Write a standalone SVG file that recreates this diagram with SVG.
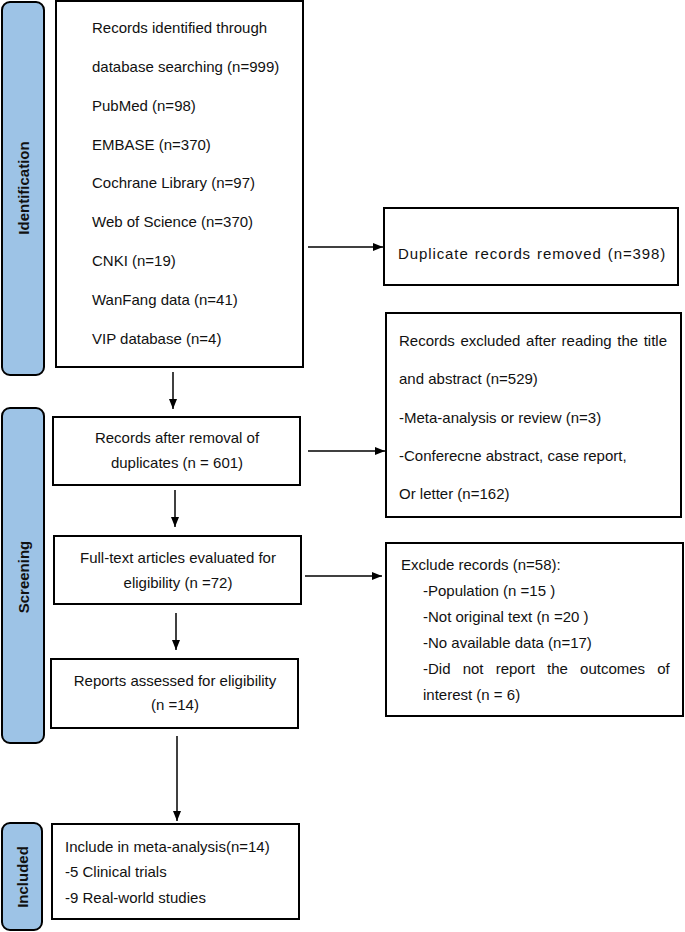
<svg xmlns="http://www.w3.org/2000/svg" width="685" height="932" viewBox="0 0 685 932">
<style>
.bg{fill:#fff}
.side{fill:#9dc3e6;stroke:#000;stroke-width:2}
.box{fill:#fff;stroke:#000;stroke-width:2}
text{font-family:"Liberation Sans",Arial,sans-serif;font-size:15px;fill:#111}
.lab{font-weight:bold;text-anchor:middle;dominant-baseline:central}
.c{text-anchor:middle}
.con{stroke:#000;stroke-width:1.5;fill:none;marker-end:url(#ah)}
</style>
<defs>
<marker id="ah" viewBox="0 0 10 8" refX="10" refY="4" markerWidth="10" markerHeight="8" markerUnits="userSpaceOnUse" orient="auto">
<path d="M0,0 L10,4 L0,8 Z" fill="#000"/>
</marker>
</defs>
<rect class="bg" width="685" height="932"/>
<g id="side-identification"><rect class="side" x="2" y="2" width="42" height="373" rx="8"/><text class="lab" transform="translate(23,188) rotate(-90)">Identification</text></g>
<g id="side-screening"><rect class="side" x="2" y="408" width="42" height="335" rx="8"/><text class="lab" transform="translate(23,577) rotate(-90)">Screening</text></g>
<g id="side-included"><rect class="side" x="2" y="823" width="40" height="107" rx="8"/><text class="lab" transform="translate(22,877) rotate(-90)">Included</text></g>
<g id="identified"><rect class="box" x="56" y="1" width="247" height="366"/>
<text x="92" y="33">Records identified through</text>
<text x="92" y="72">database searching (n=999)</text>
<text x="92" y="111">PubMed (n=98)</text>
<text x="92" y="150">EMBASE (n=370)</text>
<text x="92" y="188">Cochrane Library (n=97)</text>
<text x="92" y="227">Web of Science (n=370)</text>
<text x="92" y="266">CNKI (n=19)</text>
<text x="92" y="305">WanFang data (n=41)</text>
<text x="92" y="344">VIP database (n=4)</text></g>
<g id="duplicates"><rect class="box" x="384" y="208" width="294" height="77"/>
<text x="398" y="259" style="letter-spacing:0.9px;word-spacing:1px">Duplicate records removed (n=398)</text></g>
<g id="excluded-title"><rect class="box" x="386" y="313" width="295" height="204"/>
<text x="399" y="346" style="word-spacing:1.4px">Records excluded after reading the title</text>
<text x="399" y="384">and abstract (n=529)</text>
<text x="399" y="423">-Meta-analysis or review (n=3)</text>
<text x="399" y="461">-Conferecne abstract, case report,</text>
<text x="399" y="499">Or letter (n=162)</text></g>
<g id="after-removal"><rect class="box" x="53" y="417" width="247" height="68"/>
<text class="c" x="177" y="443">Records after removal of</text>
<text class="c" x="177" y="468">duplicates (n = 601)</text></g>
<g id="full-text"><rect class="box" x="54" y="536" width="247" height="68"/>
<text class="c" x="178" y="563">Full-text articles evaluated for</text>
<text class="c" x="178" y="588">eligibility (n =72)</text></g>
<g id="excluded-full"><rect class="box" x="386" y="543" width="297" height="173"/>
<text x="401" y="570">Exclude records (n=58):</text>
<text x="423" y="596">-Population (n =15 )</text>
<text x="423" y="622">-Not original text (n =20 )</text>
<text x="423" y="648">-No available data (n=17)</text>
<text x="423" y="674" style="word-spacing:8px">-Did not report the outcomes of</text>
<text x="423" y="700">interest (n = 6)</text></g>
<g id="reports"><rect class="box" x="51" y="659" width="247" height="69"/>
<text class="c" x="175" y="686">Reports assessed for eligibility</text>
<text class="c" x="175" y="710">(n =14)</text></g>
<g id="included"><rect class="box" x="52" y="824" width="247" height="95"/>
<text x="65" y="852">Include in meta-analysis(n=14)</text>
<text x="65" y="877">-5 Clinical trials</text>
<text x="65" y="903">-9 Real-world studies</text></g>
<g id="connectors">
<line class="con" x1="173" y1="372" x2="173" y2="409"/>
<line class="con" x1="308" y1="247" x2="383" y2="247"/>
<line class="con" x1="308" y1="451" x2="385" y2="451"/>
<line class="con" x1="175" y1="490" x2="175" y2="527"/>
<line class="con" x1="305" y1="576" x2="382" y2="576"/>
<line class="con" x1="176" y1="613" x2="176" y2="650"/>
<line class="con" x1="177" y1="736" x2="177" y2="821"/>
</g>
</svg>
